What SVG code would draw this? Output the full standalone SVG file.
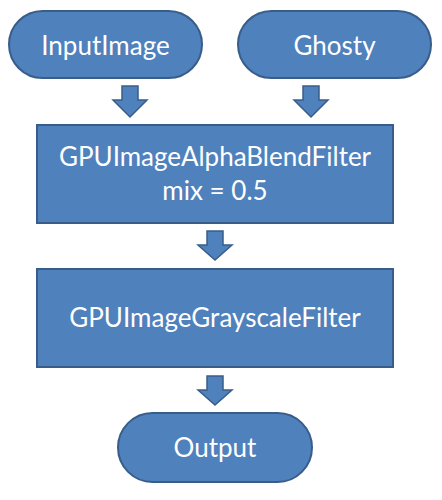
<svg xmlns="http://www.w3.org/2000/svg" width="442" height="500" viewBox="0 0 442 500">
<style>
.n{fill:#4F81BD;stroke:#385D8A;stroke-width:2}
.t{fill:#fff;font-family:Lato,"Liberation Sans",Arial,sans-serif;font-size:26px;text-anchor:middle}
.a{fill:#4F81BD;stroke:#385D8A;stroke-width:1.5}
</style>
<rect width="442" height="500" fill="#fff"/>
<g id="connectors">
<polygon class="a" points="122,86 138,86 138,100 147,100 130,117 113,100 122,100"/>
<polygon class="a" points="303,86 319,86 319,100 328,100 311,117 294,100 303,100"/>
<polygon class="a" points="207,231 223,231 223,245 232,245 215,260 198,245 207,245"/>
<polygon class="a" points="207,376 223,376 223,390 232,390 215,405 198,390 207,390"/>
</g>
<g id="inputimage">
<rect class="n" x="9" y="11" width="193" height="67" rx="33.5"/>
<text class="t" x="105.5" y="55">InputImage</text>
</g>
<g id="ghosty">
<rect class="n" x="238" y="11" width="193" height="67" rx="33.5"/>
<text class="t" x="334.5" y="55">Ghosty</text>
</g>
<g id="alphablend">
<rect class="n" x="37" y="125" width="356" height="98"/>
<text class="t" x="215" y="166">GPUImageAlphaBlendFilter</text>
<text class="t" x="215" y="200">mix = 0.5</text>
</g>
<g id="grayscale">
<rect class="n" x="37" y="269" width="356" height="98"/>
<text class="t" x="215" y="327">GPUImageGrayscaleFilter</text>
</g>
<g id="output">
<rect class="n" x="118" y="413" width="194" height="69" rx="34.5"/>
<text class="t" x="215" y="457">Output</text>
</g>
</svg>
